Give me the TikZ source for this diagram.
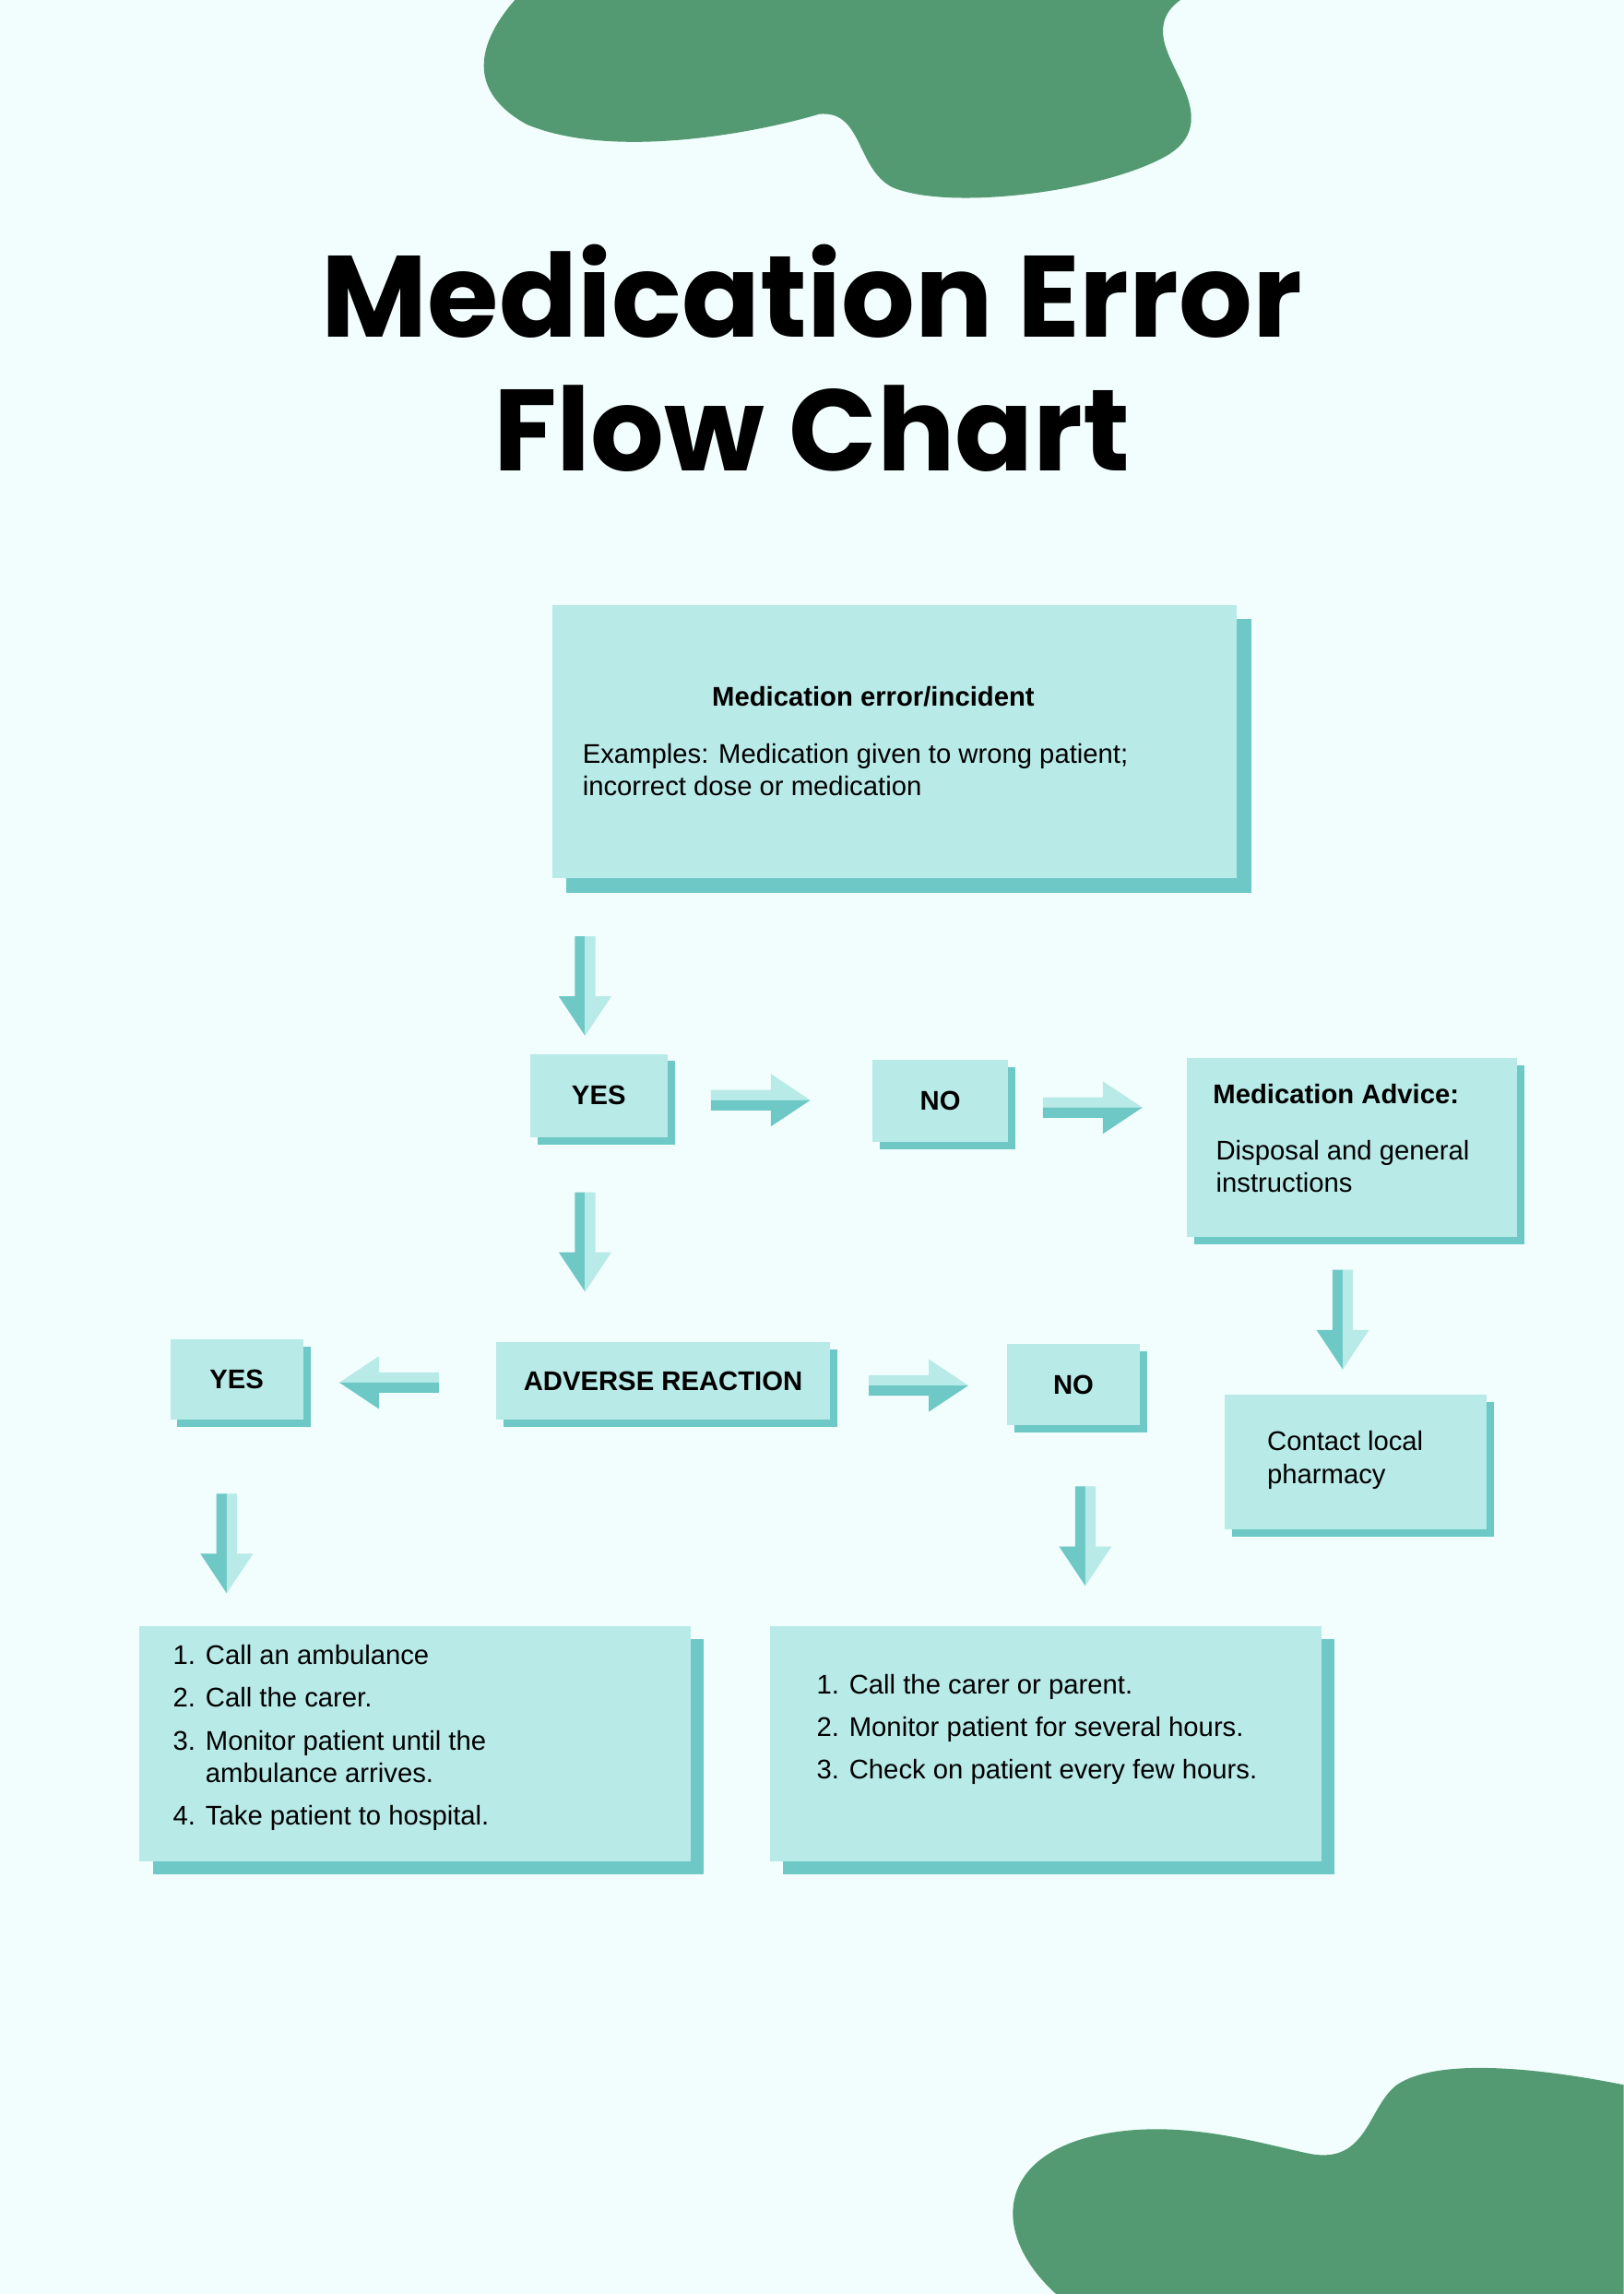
\documentclass[tikz,border=0pt]{standalone}
\usepackage{fontspec}
\setmainfont{Liberation Sans}
\newfontfamily\titlefont{Poppins}
\usetikzlibrary{shadows,positioning}
\definecolor{bgc}{HTML}{F2FEFD}
\definecolor{blobc}{HTML}{539A72}
\definecolor{boxc}{HTML}{B8EAE8}
\definecolor{shadc}{HTML}{6DC8C6}
\tikzset{
  box/.style={fill=boxc,anchor=north west,inner sep=0pt,
    copy shadow={shadow xshift=#1,shadow yshift=-#1,fill=shadc,draw=none}},
  box/.default=0.1cm,
  lbl/.style={font=\fontsize{10.5}{12.6}\selectfont\bfseries},
  txt/.style={font=\fontsize{10.5}{12.6}\selectfont,align=left,inner sep=0pt},
  harrow/.pic={
    \fill[boxc] (0,0) -- (0,-7) -- (41,-7) -- (41,-18) -- (68,0) -- cycle;
    \fill[shadc] (0,0) -- (0,7) -- (41,7) -- (41,18) -- (68,0) -- cycle;},
  varrow/.pic={
    \fill[shadc] (0,0) -- (-7,0) -- (-7,41) -- (-18,41) -- (0,68) -- cycle;
    \fill[boxc] (0,0) -- (7,0) -- (7,41) -- (18,41) -- (0,68) -- cycle;}
}
\begin{document}
\begin{tikzpicture}[x=0.02cm,y=-0.02cm]
  \fill[bgc] (0,0) rectangle (1110,1568);
  \useasboundingbox (0,0) rectangle (1110,1568);

  % blobs
  \fill[blobc] (352,0) .. controls (330,25) and (315,60) .. (360,85)
    .. controls (420,110) and (520,90) .. (560,78)
    .. controls (590,75) and (585,115) .. (610,128)
    .. controls (650,145) and (760,130) .. (800,105)
    .. controls (830,85) and (805,55) .. (798,35)
    .. controls (790,15) and (800,5) .. (807,0) -- cycle;
  \fill[blobc] (722,1568) .. controls (680,1530) and (680,1480) .. (740,1462)
    .. controls (800,1445) and (860,1465) .. (895,1472)
    .. controls (935,1480) and (935,1440) .. (955,1425)
    .. controls (985,1405) and (1060,1415) .. (1110,1425) -- (1110,1568) -- cycle;

  % title
  \node[font=\titlefont\fontsize{45}{52}\selectfont\bfseries,align=center]
    (title) at (555,245) {Medication Error\\Flow Chart};

  % boxes
  \node[box=0.2cm,minimum width=9.36cm,minimum height=3.74cm] (incident) at (377,413) {};
  \node[box,minimum width=1.88cm,minimum height=1.14cm] (yes1) at (362,720) {};
  \node[box,minimum width=1.86cm,minimum height=1.12cm] (no1) at (596,724) {};
  \node[box,minimum width=4.52cm,minimum height=2.44cm] (advice) at (811,723) {};
  \node[box,minimum width=4.56cm,minimum height=1.06cm] (adverse) at (339,917) {};
  \node[box,minimum width=1.82cm,minimum height=1.12cm] (no2) at (688,918) {};
  \node[box,minimum width=1.82cm,minimum height=1.10cm] (yes2) at (116,915) {};
  \node[box,minimum width=3.58cm,minimum height=1.84cm] (pharmacy) at (837,953) {};
  \node[box=0.18cm,minimum width=7.54cm,minimum height=3.22cm] (ambulance) at (95,1111) {};
  \node[box=0.18cm,minimum width=7.54cm,minimum height=3.22cm] (monitor) at (526,1111) {};

  % texts
  \node[lbl] (incidentT) at (597,476) {Medication error/incident};
  \node[txt,anchor=north west] (incidentX) at (398,508)
    {Examples: Medication given to wrong patient;\\incorrect dose or medication};
  \node[lbl] at (yes1.center) {YES};
  \node[lbl] at (no1.center) {NO};
  \node[lbl,anchor=west,inner sep=0pt] (adviceT) at (829,748) {Medication Advice:};
  \node[txt,anchor=north west] (adviceX) at (831,779) {Disposal and general\\instructions};
  \node[lbl] at (adverse.center) {ADVERSE REACTION};
  \node[lbl] at (no2.center) {NO};
  \node[lbl] at (yes2.center) {YES};
  \node[txt,anchor=north west] (pharmacyX) at (866,978) {Contact local\\pharmacy};
  \node[txt,anchor=north west] (ambulanceX) at (118,1124)
    {1. Call an ambulance\\[4pt]2. Call the carer.\\[4pt]3. Monitor patient until the\\
     \hphantom{3. }ambulance arrives.\\[4pt]4. Take patient to hospital.};
  \node[txt,anchor=north west] (monitorX) at (558,1144)
    {1. Call the carer or parent.\\[4pt]2. Monitor patient for several hours.\\[4pt]3. Check on patient every few hours.};

  % arrows
  \pic at (400,640) {varrow};
  \pic at (486,752) {harrow};
  \pic at (713,757) {harrow};
  \pic at (400,815) {varrow};
  \pic[xscale=-1] at (300,945) {harrow};
  \pic at (594,947) {harrow};
  \pic at (918,868) {varrow};
  \pic at (155,1021) {varrow};
  \pic at (742,1016) {varrow};
\end{tikzpicture}
\end{document}
